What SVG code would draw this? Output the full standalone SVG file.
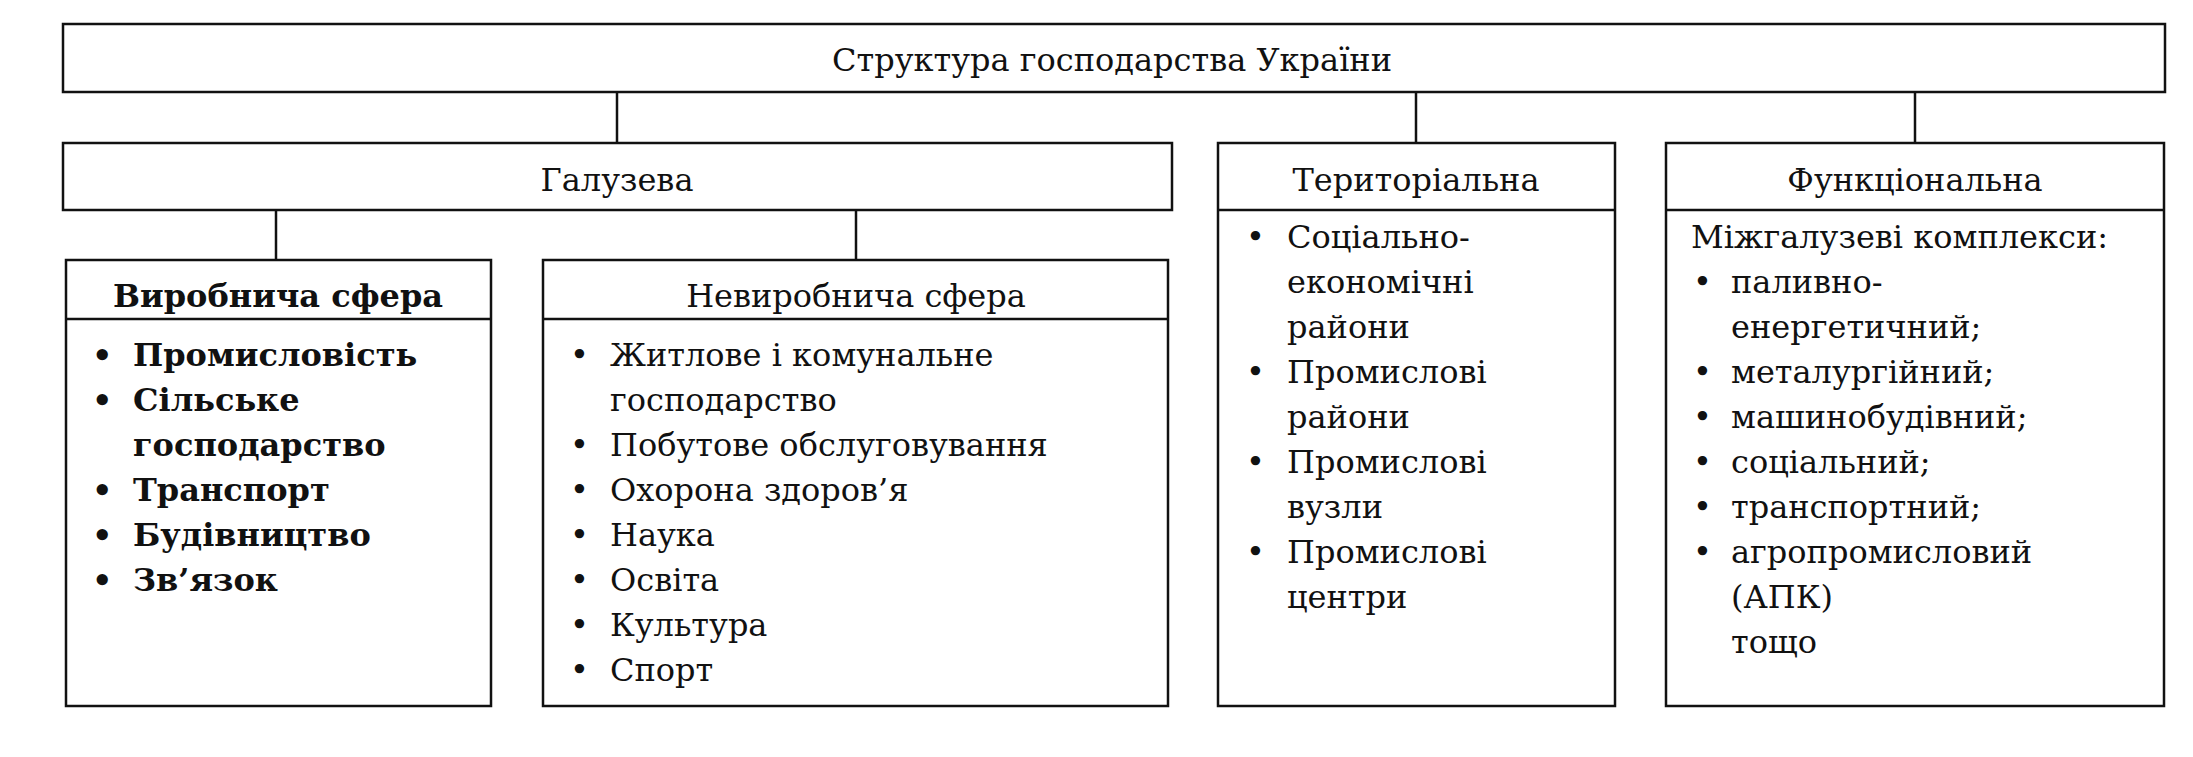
<svg xmlns="http://www.w3.org/2000/svg" width="2193" height="757" viewBox="0 0 2193 757">
<style>
rect,line{fill:none;stroke:#111;stroke-width:2.5}
text{font-family:"DejaVu Serif","Liberation Serif",serif;font-size:32px;fill:#111}
.c{text-anchor:middle}
.b{font-weight:bold}
</style>
<rect x="0" y="0" width="2193" height="757" style="fill:#fff;stroke:none"/>
<g id="connectors">
<line x1="617" y1="92" x2="617" y2="143"/>
<line x1="1416" y1="92" x2="1416" y2="143"/>
<line x1="1915" y1="92" x2="1915" y2="143"/>
<line x1="276" y1="210" x2="276" y2="260"/>
<line x1="856" y1="210" x2="856" y2="260"/>
</g>
<g id="root">
<rect x="63" y="24" width="2102" height="68"/>
<text class="c" x="1112" y="71">Структура господарства України</text>
</g>
<g id="galuzeva">
<rect x="63" y="143" width="1109" height="67"/>
<text class="c" x="617" y="191">Галузева</text>
</g>
<g id="vyrobnycha">
<rect x="66" y="260" width="425" height="446"/>
<line x1="66" y1="319" x2="491" y2="319"/>
<text class="c b" x="278" y="307">Виробнича сфера</text>
<text class="b" x="92" y="366">•</text><text class="b" x="133" y="366">Промисловість</text>
<text class="b" x="92" y="411">•</text><text class="b" x="133" y="411">Сільське</text>
<text class="b" x="133" y="456">господарство</text>
<text class="b" x="92" y="501">•</text><text class="b" x="133" y="501">Транспорт</text>
<text class="b" x="92" y="546">•</text><text class="b" x="133" y="546">Будівництво</text>
<text class="b" x="92" y="591">•</text><text class="b" x="133" y="591">Зв’язок</text>
</g>
<g id="nevyrobnycha">
<rect x="543" y="260" width="625" height="446"/>
<line x1="543" y1="319" x2="1168" y2="319"/>
<text class="c" x="856" y="307">Невиробнича сфера</text>
<text x="570" y="366">•</text><text x="610" y="366">Житлове і комунальне</text>
<text x="610" y="411">господарство</text>
<text x="570" y="456">•</text><text x="610" y="456">Побутове обслуговування</text>
<text x="570" y="501">•</text><text x="610" y="501">Охорона здоров’я</text>
<text x="570" y="546">•</text><text x="610" y="546">Наука</text>
<text x="570" y="591">•</text><text x="610" y="591">Освіта</text>
<text x="570" y="636">•</text><text x="610" y="636">Культура</text>
<text x="570" y="681">•</text><text x="610" y="681">Спорт</text>
</g>
<g id="terytorialna">
<rect x="1218" y="143" width="397" height="563"/>
<line x1="1218" y1="210" x2="1615" y2="210"/>
<text class="c" x="1416" y="191">Територіальна</text>
<text x="1246" y="248">•</text><text x="1287" y="248">Соціально-</text>
<text x="1287" y="293">економічні</text>
<text x="1287" y="338">райони</text>
<text x="1246" y="383">•</text><text x="1287" y="383">Промислові</text>
<text x="1287" y="428">райони</text>
<text x="1246" y="473">•</text><text x="1287" y="473">Промислові</text>
<text x="1287" y="518">вузли</text>
<text x="1246" y="563">•</text><text x="1287" y="563">Промислові</text>
<text x="1287" y="608">центри</text>
</g>
<g id="funktsionalna">
<rect x="1666" y="143" width="498" height="563"/>
<line x1="1666" y1="210" x2="2164" y2="210"/>
<text class="c" x="1915" y="191">Функціональна</text>
<text x="1691" y="248">Міжгалузеві  комплекси:</text>
<text x="1693" y="293">•</text><text x="1731" y="293">паливно-</text>
<text x="1731" y="338">енергетичний;</text>
<text x="1693" y="383">•</text><text x="1731" y="383">металургійний;</text>
<text x="1693" y="428">•</text><text x="1731" y="428">машинобудівний;</text>
<text x="1693" y="473">•</text><text x="1731" y="473">соціальний;</text>
<text x="1693" y="518">•</text><text x="1731" y="518">транспортний;</text>
<text x="1693" y="563">•</text><text x="1731" y="563">агропромисловий</text>
<text x="1731" y="608">(АПК)</text>
<text x="1731" y="653">тощо</text>
</g>
</svg>
